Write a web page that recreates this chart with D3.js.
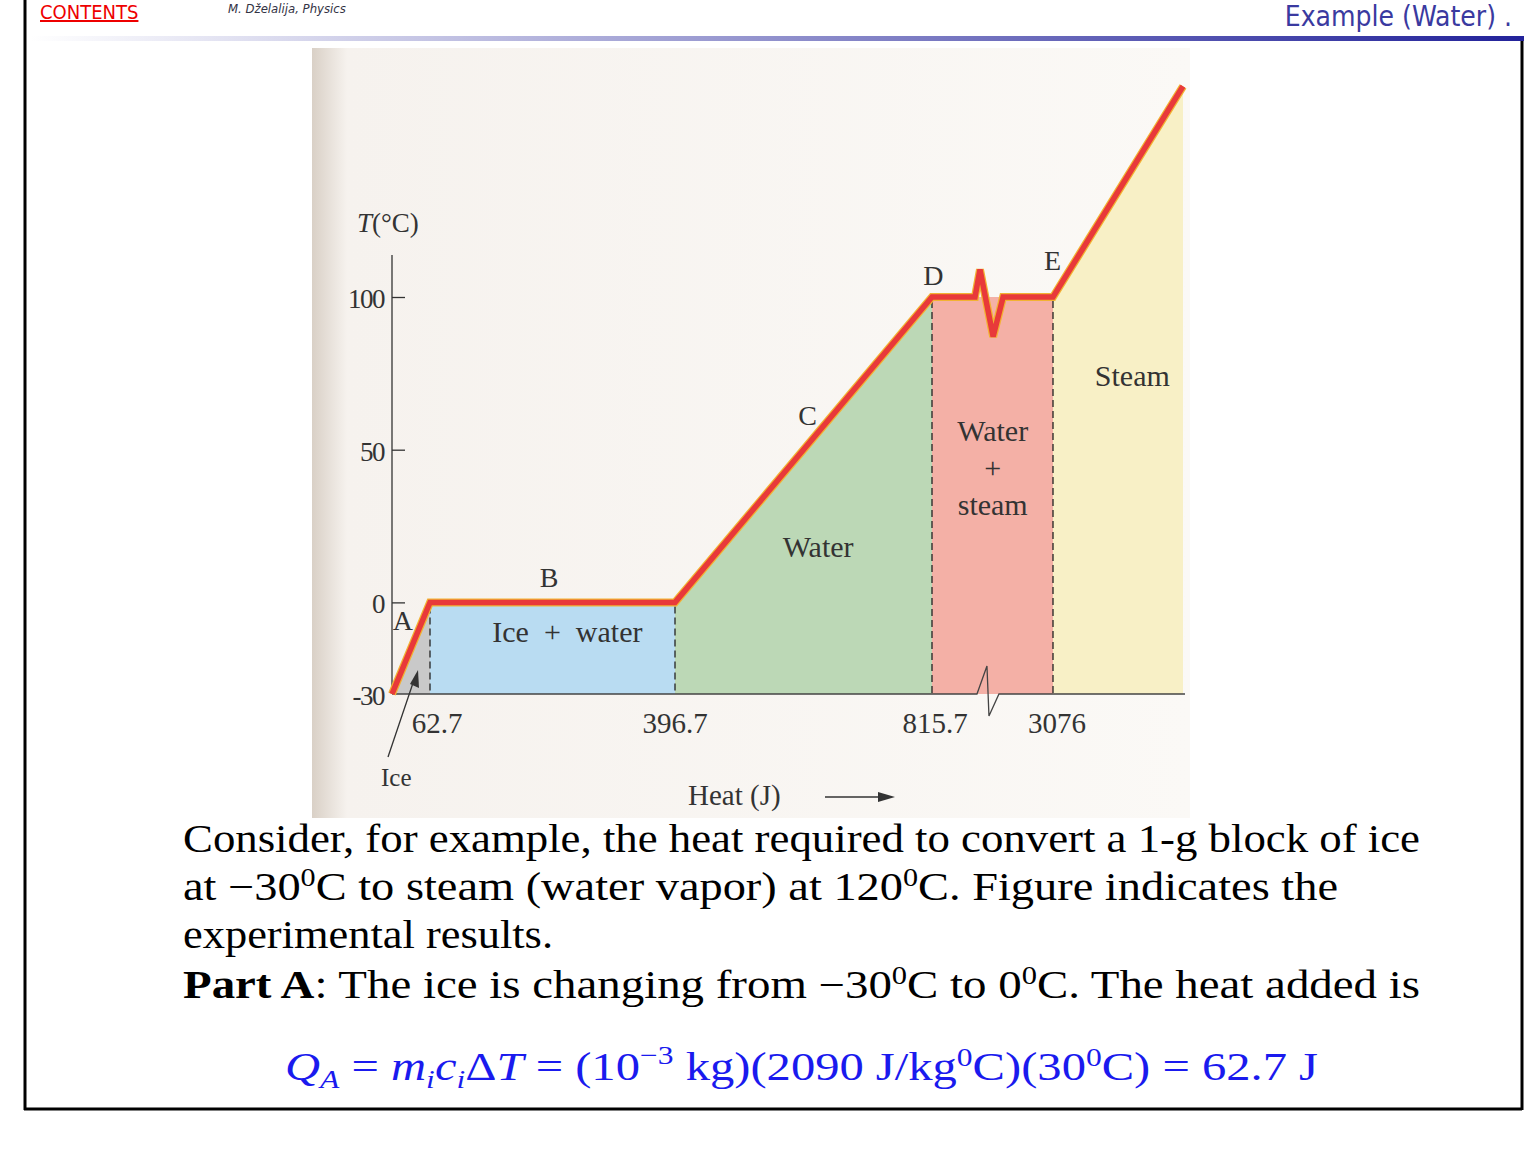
<!DOCTYPE html>
<html><head><meta charset="utf-8">
<script src="https://cdn.jsdelivr.net/npm/d3@7"></script>
<style>body{margin:0;background:#fff}svg{display:block}</style>
</head><body>
<script>
// ---- data ----
const heatTicks = [62.7, 396.7, 815.7, 3076];
const tempTicks = [100, 50, 0, -30];
const curveHeat = [0, 62.7, 396.7, 815.7, 1619, 1712, 1958, 2144, 3076, 3230];
const curveTemp = [-30, 0, 0, 100, 100, 109, 87, 100, 100, 169];
const segLabels = ["A", "B", "C", "D", "E"];
const segHeat = [18, 225, 613, 840, 3070];
const segTemp = [-9, 5, 58, 104, 109];
const phaseNames = ["Ice + water", "Water", "Water\n+\nsteam", "Steam"];

const W = 1536, H = 1176;
const svg = d3.select("body").append("svg").attr("width", W).attr("height", H);
const serif = "'Liberation Serif','DejaVu Serif',serif";

// slide frame
svg.append("line").attr("x1",25).attr("x2",25).attr("y1",0).attr("y2",1110).attr("stroke","#000").attr("stroke-width",3);
svg.append("line").attr("x1",24).attr("x2",1522).attr("y1",1109).attr("y2",1109).attr("stroke","#000").attr("stroke-width",3);
svg.append("line").attr("x1",1522).attr("x2",1522).attr("y1",40).attr("y2",1110).attr("stroke","#000").attr("stroke-width",3);
const defs = svg.append("defs");
const hg = defs.append("linearGradient").attr("id","hg");
hg.append("stop").attr("offset","0").attr("stop-color","#fff");
hg.append("stop").attr("offset","1").attr("stop-color","#22229a");
svg.append("rect").attr("x",30).attr("y",36).attr("width",1494).attr("height",5).attr("fill","url(#hg)");
svg.append("text").attr("x",40).attr("y",19).text("CONTENTS").attr("fill","#e00").attr("font-family","'DejaVu Sans Condensed','DejaVu Sans'").attr("font-size",20).attr("text-decoration","underline");
svg.append("text").attr("x",228).attr("y",13).text("M. Dželalija, Physics").attr("fill","#334").attr("font-style","italic").attr("font-family","'DejaVu Sans Condensed','DejaVu Sans'").attr("font-size",13);
svg.append("text").attr("x",1512).attr("y",26).attr("text-anchor","end").text("Example (Water) .").attr("fill","#3a3aa0").attr("font-family","'DejaVu Sans Condensed','DejaVu Sans'").attr("font-size",28);

// figure background (scan)
const bg = defs.append("linearGradient").attr("id","bg");
bg.append("stop").attr("offset","0").attr("stop-color","#d9d0c6");
bg.append("stop").attr("offset","0.04").attr("stop-color","#f6f2ee");
bg.append("stop").attr("offset","1").attr("stop-color","#fbf9f6");
svg.append("rect").attr("x",312).attr("y",48).attr("width",878).attr("height",770).attr("fill","url(#bg)");

// scales (broken heat axis -> piecewise)
const x = d3.scaleLinear().domain([0, 62.7, 396.7, 815.7, 3076, 3230]).range([392, 430, 675, 932, 1053, 1183]);
const y = d3.scaleLinear().domain([-30, 100]).range([694, 297]);
const pts = curveHeat.map((h,i)=>[h, curveTemp[i]]);
const tAt = h => { for (let i=1;i<pts.length;i++) if (h<=pts[i][0]) { const a=pts[i-1],b=pts[i]; return a[1]+(b[1]-a[1])*(h-a[0])/(b[0]-a[0]); } return pts[pts.length-1][1]; };

const area = d3.area().x(d=>x(d[0])).y0(y(-30)).y1(d=>y(d[1]));
const fills = [[0,62.7,"#c9c9c9"],[62.7,396.7,"#b9dcf2"],[396.7,815.7,"#bcd8b6"],[815.7,3076,"#f4b0a6"],[3076,3230,"#f8f0c6"]];
fills.forEach(([a,b,c])=>{
  let seg = [[a,tAt(a)], ...pts.filter(p=>p[0]>a && p[0]<b), [b,tAt(b)]];
  if (a===815.7) seg = [[a,100],[b,100]];
  svg.append("path").attr("d", area(seg)).attr("fill", c);
});

// dashed separators
heatTicks.forEach(h=>{
  svg.append("line").attr("x1",x(h)).attr("x2",x(h)).attr("y1",y(tAt(h))+4).attr("y2",y(-30))
    .attr("stroke","#222").attr("stroke-width",1.3).attr("stroke-dasharray","7,4");
});

// axes
const ax = svg.append("g").attr("transform",`translate(${x(0)},0)`)
  .call(d3.axisRight(y).tickValues(tempTicks.filter(t=>t>-30)).tickSize(13).tickFormat(""));
ax.select(".domain").remove();
ax.selectAll("line").attr("stroke","#333").attr("stroke-width",1.3);
svg.append("line").attr("x1",x(0)).attr("x2",x(0)).attr("y1",255).attr("y2",y(-30)).attr("stroke","#333").attr("stroke-width",1.3);
tempTicks.forEach(t=>svg.append("text").attr("x",x(0)-8).attr("y",y(t)+11).attr("text-anchor","end").text(t)
  .attr("font-family",serif).attr("font-size",27).attr("fill","#333").attr("letter-spacing",-1.5));
const brk = x(1805);
svg.append("path").attr("d",`M${x(0)},${y(-30)}H${brk-8}L${brk+2},${y(-30)-28}L${brk+4},${y(-30)+22}L${brk+14},${y(-30)}H1185`)
  .attr("fill","none").attr("stroke","#444").attr("stroke-width",1.3);
heatTicks.forEach((h,i)=>svg.append("text").attr("x",x(h)+[7,0,3,4][i]).attr("y",733).attr("text-anchor","middle").text(h)
  .attr("font-family",serif).attr("font-size",29).attr("fill","#333"));
svg.append("text").attr("x",357).attr("y",232).attr("font-family",serif).attr("font-size",27).attr("fill","#333")
  .html('<tspan font-style="italic">T</tspan>(°C)');
svg.append("text").attr("x",688).attr("y",805).attr("font-family",serif).attr("font-size",29).attr("fill","#333").text("Heat (J)");
svg.append("path").attr("d","M825,797H882").attr("stroke","#333").attr("stroke-width",1.5);
svg.append("path").attr("d","M878,792L895,797L878,802Z").attr("fill","#333");
// Ice arrow
svg.append("line").attr("x1",388).attr("y1",757).attr("x2",414).attr("y2",680).attr("stroke","#333").attr("stroke-width",1.3);
svg.append("path").attr("d","M418,670L419,688L410,684Z").attr("fill","#333");
svg.append("text").attr("x",381).attr("y",786).text("Ice").attr("font-family",serif).attr("font-size",25).attr("fill","#333");

// curve
const line = d3.line().x(d=>x(d[0])).y(d=>y(d[1]));
svg.append("path").attr("d",line(pts)).attr("fill","none").attr("stroke","#f2b233").attr("stroke-width",8).attr("stroke-linejoin","miter");
svg.append("path").attr("d",line(pts)).attr("fill","none").attr("stroke","#e8393a").attr("stroke-width",5.5).attr("stroke-linejoin","miter");

// labels
segLabels.forEach((s,i)=>svg.append("text").attr("x",x(segHeat[i])).attr("y",y(segTemp[i])).attr("text-anchor","middle").text(s)
  .attr("font-family",serif).attr("font-size",28).attr("fill","#333"));
const phasePos = [[250,-13],[630,15],[1950,53],[3170,71]];
phaseNames.forEach((n,i)=>{
  const t = svg.append("text").attr("x",x(phasePos[i][0])).attr("y",y(phasePos[i][1])).attr("text-anchor","middle")
    .attr("font-family",serif).attr("font-size",30).attr("fill","#333").attr("xml:space","preserve");
  n.split("\n").forEach((l,j)=>t.append("tspan").attr("x",x(phasePos[i][0])).attr("dy",j?37:0).text(l.replace(" + ","  +  ")));
});

// slide text
const body = svg.append("g").attr("font-family","'Liberation Serif',serif").attr("font-size",40).attr("fill","#000");
body.append("text").attr("x",183).attr("y",852).attr("textLength",1237).attr("lengthAdjust","spacingAndGlyphs").text("Consider, for example, the heat required to convert a 1-g block of ice");
body.append("text").attr("x",183).attr("y",900).attr("textLength",1155).attr("lengthAdjust","spacingAndGlyphs").html('at −30<tspan dy="-14" font-size="26">0</tspan><tspan dy="14">C to steam (water vapor) at 120</tspan><tspan dy="-14" font-size="26">0</tspan><tspan dy="14">C. Figure indicates the</tspan>');
body.append("text").attr("x",183).attr("y",948).attr("textLength",370).attr("lengthAdjust","spacingAndGlyphs").text("experimental results.");
body.append("text").attr("x",183).attr("y",998).attr("textLength",1237).attr("lengthAdjust","spacingAndGlyphs").html('<tspan font-weight="bold">Part A</tspan>: The ice is changing from −30<tspan dy="-14" font-size="26">0</tspan><tspan dy="14">C to 0</tspan><tspan dy="-14" font-size="26">0</tspan><tspan dy="14">C. The heat added is</tspan>');
svg.append("text").attr("x",285).attr("y",1080).attr("fill","#1a1aee").attr("textLength",1033).attr("lengthAdjust","spacingAndGlyphs")
  .attr("font-family","'Liberation Serif',serif").attr("font-size",40)
  .html('<tspan font-style="italic">Q</tspan><tspan font-size="26" dy="8" font-style="italic">A</tspan><tspan dy="-8"> = </tspan><tspan font-style="italic">m</tspan><tspan font-size="26" dy="8" font-style="italic">i</tspan><tspan dy="-8" font-style="italic">c</tspan><tspan font-size="26" dy="8" font-style="italic">i</tspan><tspan dy="-8">Δ</tspan><tspan font-style="italic">T</tspan><tspan> = (10</tspan><tspan dy="-16" font-size="26">−3</tspan><tspan dy="16"> kg)(2090 J/kg</tspan><tspan dy="-14" font-size="26">0</tspan><tspan dy="14">C)(30</tspan><tspan dy="-14" font-size="26">0</tspan><tspan dy="14">C) = 62.7 J</tspan>');
</script>
</body></html>
